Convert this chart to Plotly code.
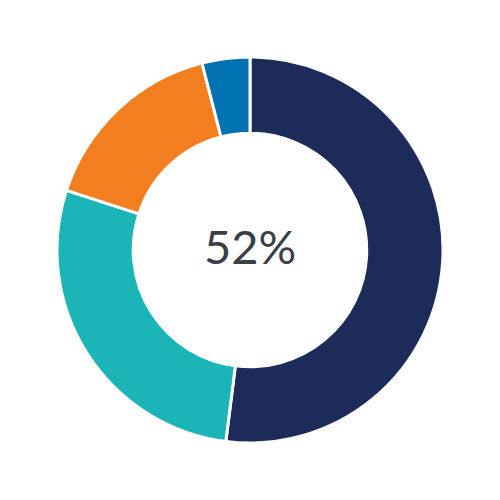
import plotly.graph_objects as go

labels = ["A", "B", "C", "D"]
values = [52, 28, 16, 4]
colors = ["#1c2b5a", "#1bb5b8", "#f37e20", "#0072b1"]
center_text = "52%"

fig = go.Figure(go.Pie(
    labels=labels,
    values=values,
    hole=0.605,
    sort=False,
    direction="clockwise",
    rotation=0,
    marker=dict(colors=colors, line=dict(color="white", width=3)),
    textinfo="none",
    hoverinfo="label+percent",
    showlegend=False,
))
fig.add_annotation(
    text=center_text, x=0.5, y=0.5, xref="paper", yref="paper",
    showarrow=False, yshift=4,
    font=dict(family="Lato", size=47, color="#3a3e47"),
)
fig.update_layout(
    width=500, height=500,
    margin=dict(l=49, r=65, t=49, b=65),
    paper_bgcolor="white", plot_bgcolor="white",
)
fig.write_html("out.html")
